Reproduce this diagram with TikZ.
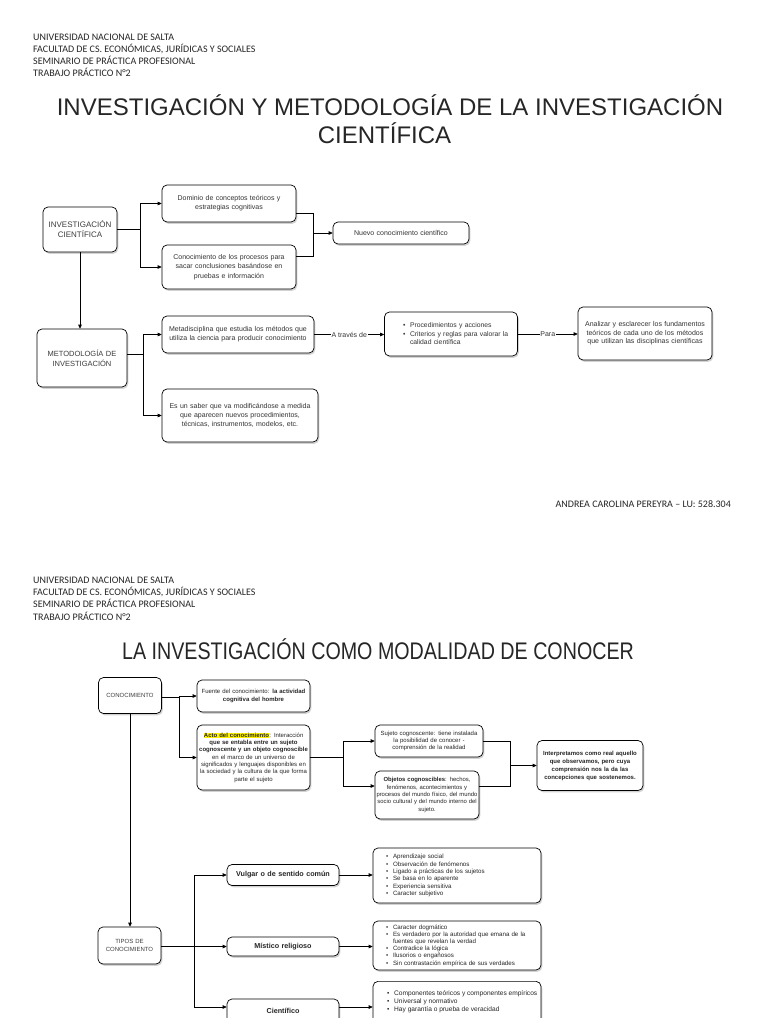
\documentclass[tikz,border=0pt]{standalone}
\usepackage{fontspec}
\usepackage{graphicx}
\setmainfont{Liberation Sans}
\newfontfamily\hdr{Carlito}
\usetikzlibrary{arrows.meta,shadows,calc}
\definecolor{tgray}{HTML}{3C3C3C}
\definecolor{hlyellow}{HTML}{FFF200}
\newcommand\bul[1][0pt]{\hspace*{#1}\makebox[7pt][l]{\textbullet}}
\newcommand\ind[1][0pt]{\hspace*{#1}\hspace*{7pt}}
\newcommand\hlt[1]{{\setlength{\fboxsep}{0.4pt}\colorbox{hlyellow}{#1}}}
\begin{document}
\begin{tikzpicture}[x=1pt,y=-1pt,
  box/.style={draw=black, line width=0.7pt, rounded corners=5pt, fill=white,
     drop shadow={shadow xshift=1.3pt, shadow yshift=-1.8pt, opacity=0.35},
     align=center, inner sep=0pt, text=tgray},
  sz/.style n args={3}{minimum width=#1pt, minimum height=#2pt, text width=#3pt},
  dark/.style={font=\fontsize{7}{9.2}\selectfont, text=black!80},
  small/.style={font=\fontsize{6}{7.3}\selectfont, text=black!85},
  hdrtxt/.style={anchor=base west, inner sep=0pt, font=\hdr\fontsize{10}{12}\selectfont, text=black!85},
  ttl/.style={anchor=base, inner sep=0pt, font=\fontsize{24}{28}\selectfont, text=black!85},
  ln/.style={draw=black, line width=0.7pt},
  arr/.style={ln, -{Triangle[length=4pt,width=3.6pt]}},
  lbl/.style={fill=white, inner sep=0.6pt, font=\fontsize{7}{8}\selectfont, text=black!80}
]
\useasboundingbox (0,0) rectangle (768,1024);
\fill[white] (0,0) rectangle (768,1024);
\begin{scope}
\clip (0,0) rectangle (768,1017.5);

% ---------- page 1 header ----------
\node[hdrtxt] (ha1) at (33,40.2) {UNIVERSIDAD NACIONAL DE SALTA};
\node[hdrtxt] (ha2) at (33,52.2) {FACULTAD DE CS. ECONÓMICAS, JURÍDICAS Y SOCIALES};
\node[hdrtxt] (ha3) at (33,64.2) {SEMINARIO DE PRÁCTICA PROFESIONAL};
\node[hdrtxt] (ha4) at (33,76.2) {TRABAJO PRÁCTICO N°2};

\node[ttl] (t1) at (390,116) {INVESTIGACIÓN Y METODOLOGÍA DE LA INVESTIGACIÓN};
\node[ttl] (t2) at (384.5,144) {CIENTÍFICA};

% ---------- diagram 1 ----------
\node[box,sz={74}{45}{70},font=\fontsize{8}{10}\selectfont] (inv) at (80,229.5) {INVESTIGACIÓN\\CIENTÍFICA};
\node[box,dark,sz={134}{37}{130}] (dom) at (229,203.5) {Dominio de conceptos teóricos y\\estrategias cognitivas};
\node[box,dark,sz={134}{44}{130}] (con) at (229,267) {Conocimiento de los procesos para\\sacar conclusiones basándose en\\pruebas e información};
\node[box,dark,sz={136}{22}{132}] (nuevo) at (401,233) {Nuevo conocimiento científico};
\coordinate (j1) at (140,229.5);
\coordinate (j2) at (313,233);
\draw[ln] (inv.east) -- (j1);
\draw[arr] (j1) |- (dom.west);
\draw[arr] (j1) |- (con.west);
\draw[ln] ([yshift=-9.5pt]dom.east) -| (j2);
\draw[ln] ([yshift=11pt]con.east) -| (j2);
\draw[arr] (j2) -- (nuevo.west);

\node[box,sz={90}{58}{86},font=\fontsize{7.5}{10}\selectfont] (met) at (82,358) {METODOLOGÍA DE\\INVESTIGACIÓN};
\draw[arr] (inv.south) -- (inv.south |- met.north);
\node[box,dark,sz={152}{37}{148}] (meta) at (238,334.5) {Metadisciplina que estudia los métodos que\\utiliza la ciencia para producir conocimiento};
\node[box,dark,sz={156}{53}{152}] (saber) at (240,415.5) {Es un saber que va modificándose a medida\\que aparecen nuevos procedimientos,\\técnicas, instrumentos, modelos, etc.};
\coordinate (j3) at (143,354);
\draw[ln] (met.east |- j3) -- (j3);
\draw[arr] (j3) |- (meta.west);
\draw[arr] (j3) |- (saber.west);

\node[box,dark,sz={133}{44}{128},align=left,font=\fontsize{6.8}{8.5}\selectfont] (proc) at (451,334) {\bul[16pt]Procedimientos y acciones\\\bul[16pt]Criterios y reglas para valorar la\\\ind[16pt]calidad científica};
\node[box,dark,sz={134}{53}{130},font=\fontsize{7}{8.6}\selectfont] (anal) at (645,333.5) {Analizar y esclarecer los fundamentos\\teóricos de cada uno de los métodos\\que utilizan las disciplinas científicas};
\draw[arr] (meta.east) -- node[lbl] {A través de} (meta.east -| proc.west);
\draw[arr] (proc.east) -- node[lbl] {Para} (proc.east -| anal.west);

\node[anchor=base east, inner sep=0pt, font=\hdr\fontsize{10}{12}\selectfont, text=black!85] (foot) at (731,507) {ANDREA CAROLINA PEREYRA – LU: 528.304};

% ---------- page 2 header ----------
\node[hdrtxt] (hb1) at (33,583.2) {UNIVERSIDAD NACIONAL DE SALTA};
\node[hdrtxt] (hb2) at (33,595.4) {FACULTAD DE CS. ECONÓMICAS, JURÍDICAS Y SOCIALES};
\node[hdrtxt] (hb3) at (33,607.8) {SEMINARIO DE PRÁCTICA PROFESIONAL};
\node[hdrtxt] (hb4) at (33,620.2) {TRABAJO PRÁCTICO N°2};

\node[ttl] (t3) at (378,659) {\scalebox{0.82}[1]{LA INVESTIGACIÓN COMO MODALIDAD DE CONOCER}};

% ---------- diagram 2 ----------
\node[box,sz={63}{36}{60},font=\fontsize{6}{8}\selectfont] (cono) at (130,695.5) {CONOCIMIENTO};
\node[box,small,sz={113}{32}{110},font=\fontsize{6}{7.9}\selectfont] (fuente) at (253.5,696) {Fuente del conocimiento: \textbf{la actividad}\\\textbf{cognitiva del hombre}};
\node[box,small,sz={113}{65}{111}] (acto) at (253.5,757.5) {\hlt{\textbf{Acto del conocimiento}}: Interacción\\\textbf{que se entabla entre un sujeto}\\\textbf{cognoscente y un objeto cognoscible}\\en el marco de un universo de\\significados y lenguajes disponibles en\\la sociedad y la cultura de la que forma\\parte el sujeto};
\coordinate (j4) at (179,697);
\draw[ln] (cono.east |- j4) -- (j4);
\draw[arr] (j4) |- (fuente.west);
\draw[arr] (j4) |- (acto.west);

\node[box,small,sz={108}{32}{104}] (sujeto) at (429,741) {Sujeto cognoscente: tiene instalada\\la posibilidad de conocer -\\comprensión de la realidad};
\node[box,small,sz={104}{48}{104},font=\fontsize{5.9}{7.3}\selectfont] (objetos) at (427,795) {\textbf{Objetos cognoscibles}: hechos,\\fenómenos, acontecimientos y\\procesos del mundo físico, del mundo\\socio cultural y del mundo interno del\\sujeto.};
\coordinate (j5) at (343,757.5);
\draw[ln] (acto.east) -- (j5);
\draw[arr] (j5) |- (sujeto.west);
\draw[arr] (j5) |- ([yshift=9pt]objetos.west);

\node[box,small,sz={106}{50}{102},font=\bfseries\fontsize{6}{8}\selectfont] (interp) at (590,765.5) {Interpretamos como real aquello\\que observamos, pero cuya\\comprensión nos la da las\\concepciones que sostenemos.};
\coordinate (j6) at (510,765.5);
\draw[ln] (sujeto.east) -| (j6);
\draw[ln] ([yshift=9pt]objetos.east) -| (j6);
\draw[arr] (j6) -- (interp.west);

\node[box,sz={63}{37}{60},font=\fontsize{6}{8.5}\selectfont] (tipos) at (129.5,945.5) {TIPOS DE\\CONOCIMIENTO};
\draw[arr] (cono.south) -- (cono.south |- tipos.north);

\node[box,sz={112}{21}{108},font=\bfseries\fontsize{7.2}{9}\selectfont,text=black!85] (vulgar) at (283,875) {Vulgar o de sentido común};
\node[box,sz={112}{19}{108},font=\bfseries\fontsize{7.2}{9}\selectfont,text=black!85] (mistico) at (283,946.5) {Místico religioso};
\node[box,sz={112}{24}{108},font=\bfseries\fontsize{7.2}{9}\selectfont,text=black!85] (cient) at (283,1011) {Científico};
\coordinate (j7) at (194,946);
\draw[ln] (tipos.east |- j7) -- (j7);
\draw[arr] (j7) |- (vulgar.west);
\draw[arr] (j7) |- (mistico.west);
\draw[arr] (j7) |- ([yshift=4pt]cient.west);

\node[box,small,sz={168}{55}{142},align=left,font=\fontsize{6.2}{7.3}\selectfont] (list1) at (457,875.5) {\bul Aprendizaje social\\\bul Observación de fenómenos\\\bul Ligado a prácticas de los sujetos\\\bul Se basa en lo aparente\\\bul Experiencia sensitiva\\\bul Caracter subjetivo};
\node[box,small,sz={168}{49}{142},align=left,font=\fontsize{6.2}{7.2}\selectfont] (list2) at (457,945.5) {\bul Caracter dogmático\\\bul Es verdadero por la autoridad que emana de la\\\ind fuentes que revelan la verdad\\\bul Contradice la lógica\\\bul Ilusorios o engañosos\\\bul Sin contrastación empírica de sus verdades};
\node[box,sz={168}{70}{160},anchor=north] (list3) at (457,981) {};
\node[anchor=north west, inner sep=0pt, align=left, small, font=\fontsize{6.6}{8.2}\selectfont] (list3t) at (387,990.5) {\bul Componentes teóricos y componentes empíricos\\\bul Universal y normativo\\\bul Hay garantía o prueba de veracidad};
\draw[arr] (vulgar.east) -- (vulgar.east -| list1.west);
\draw[arr] (mistico.east) -- (mistico.east -| list2.west);
\draw[arr] ([yshift=4pt]cient.east) -- ([yshift=4pt]cient.east -| list3.west);
\end{scope}
\end{tikzpicture}
\end{document}
